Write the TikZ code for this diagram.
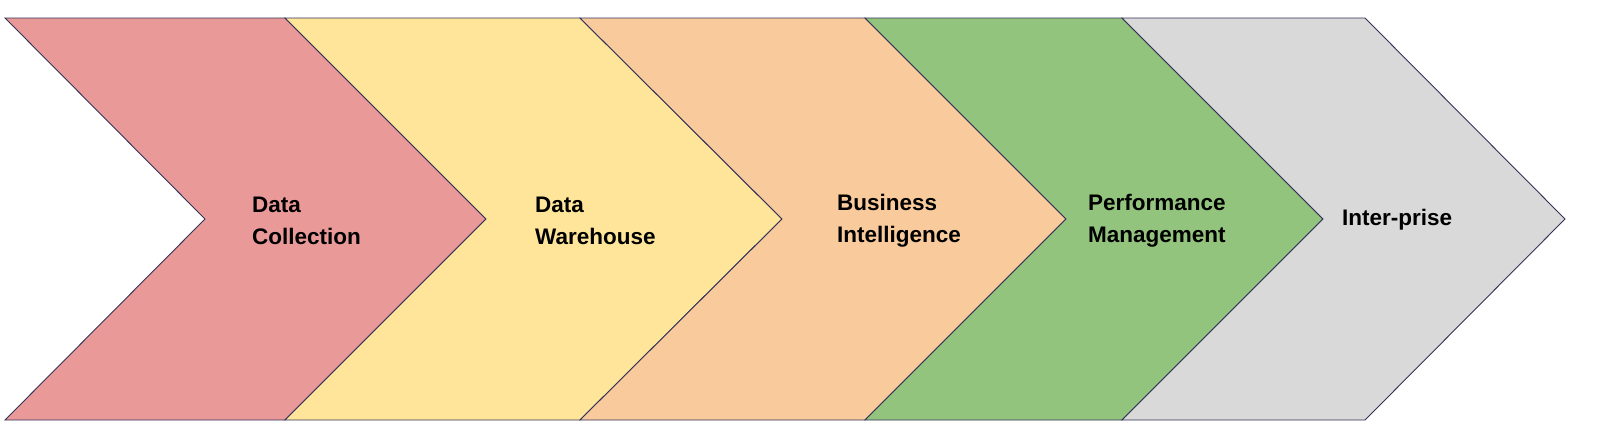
\documentclass[tikz,border=0pt]{standalone}
\usepackage{fontspec}
\setmainfont{Liberation Sans}
\begin{document}
\begin{tikzpicture}[x=1pt,y=-1pt,
  chev/.style={draw=black!75!blue!60!gray,line width=0.9pt,line join=miter},
  lbl/.style={anchor=west,align=left,font=\bfseries\fontsize{22.5}{32}\selectfont,inner sep=0pt}]
\useasboundingbox (0,0) rectangle (1600,440);
\definecolor{c1}{HTML}{EA9999}
\definecolor{c2}{HTML}{FFE599}
\definecolor{c3}{HTML}{F9CB9C}
\definecolor{c4}{HTML}{93C47D}
\definecolor{c5}{HTML}{D9D9D9}
\draw[chev,fill=c1] (5,18) -- (285,18) -- (486,219) -- (285,420) -- (5,420) -- (205,219) -- cycle;
\draw[chev,fill=c2] (285,18) -- (580,18) -- (782,219) -- (580,420) -- (285,420) -- (486,219) -- cycle;
\draw[chev,fill=c3] (580,18) -- (865,18) -- (1066,219) -- (865,420) -- (580,420) -- (782,219) -- cycle;
\draw[chev,fill=c4] (865,18) -- (1122,18) -- (1323,219) -- (1122,420) -- (865,420) -- (1066,219) -- cycle;
\draw[chev,fill=c5] (1122,18) -- (1365,18) -- (1565,219) -- (1365,420) -- (1122,420) -- (1323,219) -- cycle;
\node[lbl] (t1) at (252,221) {Data\\Collection};
\node[lbl] (t2) at (535,221) {Data\\Warehouse};
\node[lbl] (t3) at (837,221) {Business\\Intelligence};
\node[lbl] (t4) at (1088,221) {Performance\\Management};
\node[lbl] (t5) at (1342,220) {Inter-prise};
\end{tikzpicture}
\end{document}
